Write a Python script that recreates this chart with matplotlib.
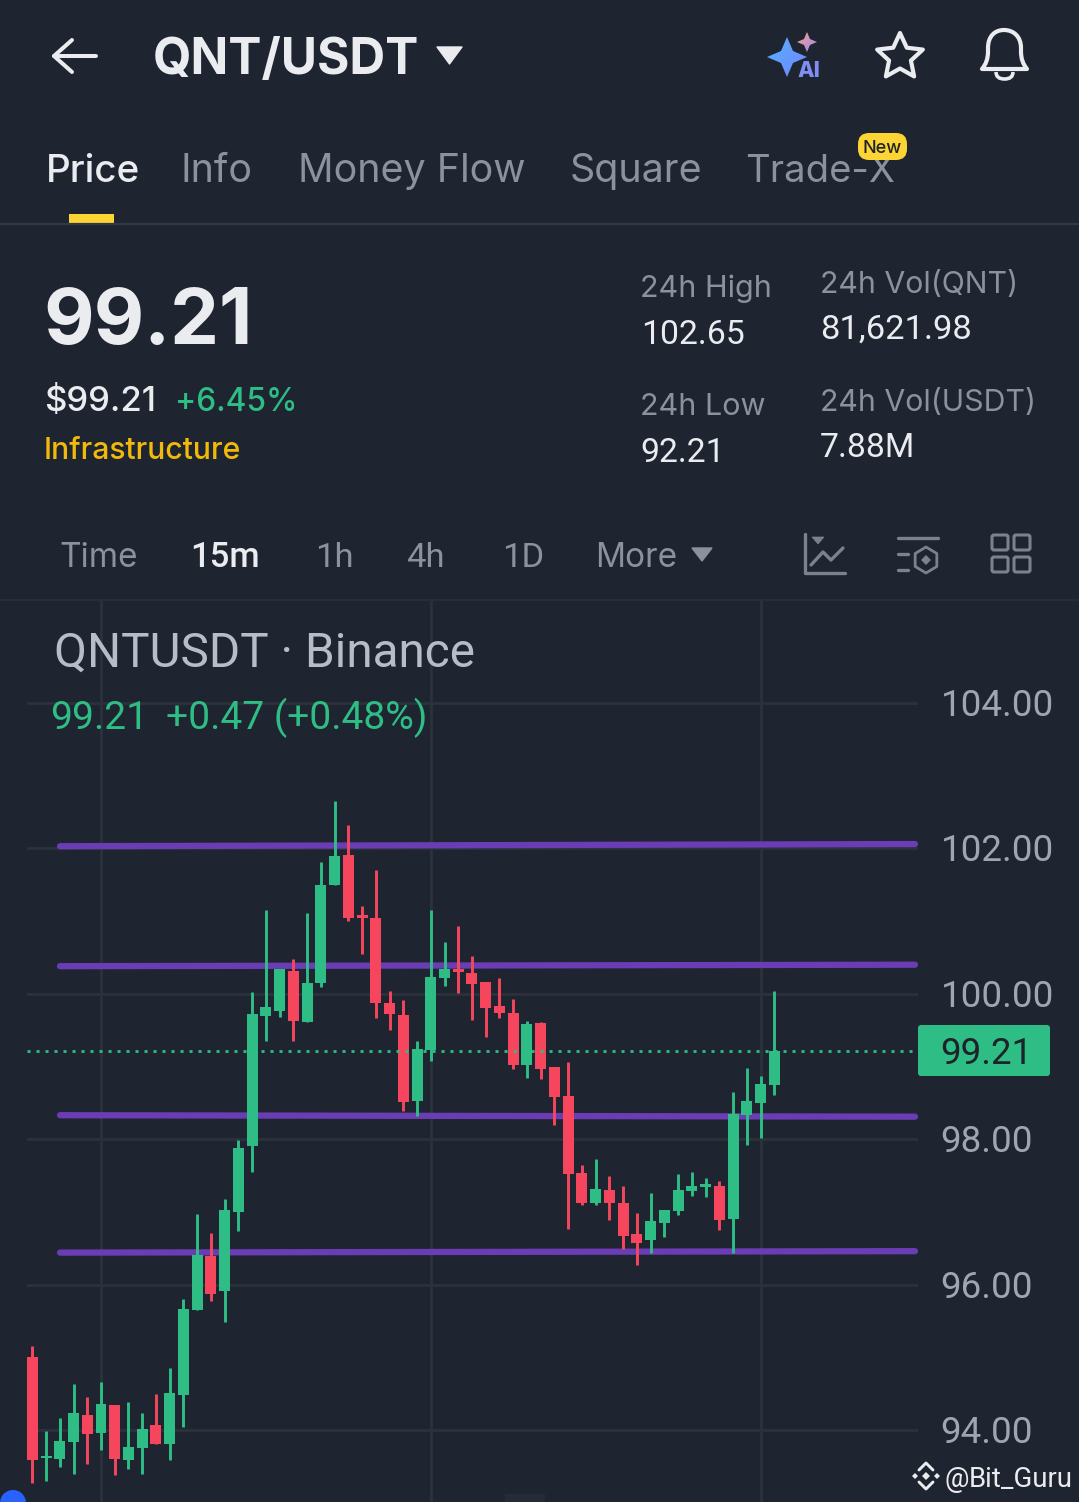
import matplotlib
matplotlib.use('Agg')
import numpy as np
import matplotlib.pyplot as plt
from matplotlib.colors import LinearSegmentedColormap
from matplotlib.patches import Circle, FancyBboxPatch, PathPatch, Polygon, Rectangle
from matplotlib.path import Path
from matplotlib.transforms import Affine2D

# QNT/USDT 15m candles
opens = [95.01, 93.61, 93.60, 93.84, 94.21, 93.96, 94.35, 93.59, 93.75, 94.07,
         93.81, 94.48, 95.65, 96.39, 95.91, 97.00, 97.90, 99.70, 99.76, 100.31,
         99.61, 100.15, 101.50, 101.91, 101.08, 101.04, 99.87, 99.71, 98.53, 99.23,
         100.22, 100.34, 100.29, 100.16, 99.83, 99.74, 99.02, 99.60, 99.00, 98.59,
         97.54, 97.12, 97.30, 97.12, 96.70, 96.61, 96.85, 97.01, 97.29, 97.34,
         97.36, 96.90, 98.33, 98.50, 98.75]
highs = [95.15, 93.98, 94.16, 94.63, 94.46, 94.66, 94.35, 94.39, 94.24, 94.50,
         94.85, 95.80, 96.97, 96.71, 97.18, 97.99, 100.02, 101.15, 100.34, 100.48,
         101.11, 101.81, 102.65, 102.32, 101.21, 101.70, 100.04, 99.91, 99.35, 101.15,
         100.71, 100.93, 100.52, 100.16, 100.22, 99.93, 99.62, 99.61, 99.00, 99.06,
         97.65, 97.73, 97.49, 97.36, 96.98, 97.26, 97.03, 97.52, 97.55, 97.47,
         97.43, 98.65, 98.98, 98.87, 100.04]
lows = [93.27, 93.30, 93.49, 93.40, 93.53, 93.73, 93.38, 93.46, 93.40, 93.81,
        93.59, 94.04, 95.65, 95.77, 95.49, 96.74, 97.55, 99.35, 99.68, 99.35,
        99.61, 100.09, 101.50, 101.00, 100.55, 99.67, 99.50, 98.39, 98.32, 99.08,
        100.11, 100.01, 99.64, 99.41, 99.67, 98.97, 98.84, 98.83, 98.20, 96.76,
        97.10, 97.10, 96.89, 96.49, 96.27, 96.43, 96.65, 96.96, 97.22, 97.20,
        96.75, 96.43, 97.92, 98.02, 98.61]
closes = [93.59, 93.64, 93.85, 94.24, 93.95, 94.36, 93.60, 93.77, 94.02, 93.81,
          94.51, 95.67, 96.41, 95.87, 97.03, 97.88, 99.72, 99.82, 100.34, 99.63,
          100.15, 101.50, 101.90, 101.04, 101.04, 99.87, 99.72, 98.51, 99.24, 100.23,
          100.34, 100.30, 100.13, 99.80, 99.74, 99.02, 99.58, 98.97, 98.58, 97.52,
          97.12, 97.32, 97.12, 96.67, 96.57, 96.87, 97.03, 97.30, 97.36, 97.38,
          96.89, 98.35, 98.53, 98.76, 99.21]

# hand drawn levels: price at the left end, price at the right end
level_starts = [102.03, 100.38, 98.33, 96.44]
level_ends = [102.06, 100.40, 98.31, 96.46]

last_price = 99.21
price_ticks = [94, 96, 98, 100, 102, 104]
time_ticks = [5, 29, 53]

W, H = 1079, 1502
BG = '#1e2430'
UP = '#2ebd85'
DOWN = '#f6465d'
GRID = '#2c323c'
WHITE = '#eaecef'
GREY = '#8b929e'
YELLOW = '#f0b90b'
PURPLE = '#6b3db5'
UI = ['Inter', 'Roboto', 'DejaVu Sans']
CHART = ['Roboto', 'DejaVu Sans']

fig = plt.figure(figsize=(W / 100, H / 100), dpi=100, facecolor=BG)

# chart area: candles start at x=32 with a 13.74px step, 72.7px per price unit
ax = fig.add_axes([27 / W, 0, (918 - 27) / W, (H - 600) / H], facecolor=BG)
ax.set_xlim((27 - 32.3) / 13.74, (918 - 32.3) / 13.74)
ax.set_ylim(104 - (H - 703) / 72.7, 104 + 103 / 72.7)
for s in ax.spines.values():
    s.set_visible(False)
ax.set_xticks(time_ticks)
ax.set_xticklabels([])
ax.set_yticks(price_ticks)
ax.set_yticklabels(['%.2f' % p for p in price_ticks], family=CHART, fontsize=26.5, color='#a0a6b0')
ax.yaxis.tick_right()
ax.tick_params(axis='both', length=0)
ax.tick_params(axis='y', pad=16.3)
for tl in ax.get_yticklabels():
    tl.set_transform(tl.get_transform() + Affine2D().translate(0, 1))
ax.grid(True, color=GRID, lw=2)
ax.set_axisbelow(True)

xs = np.arange(len(opens))
o, h, l, c = map(np.array, (opens, highs, lows, closes))
colors = np.where(c >= o, UP, DOWN)

# support/resistance lines sit under the candles
x0, x1 = (60 - 32.3) / 13.74, (915 - 32.3) / 13.74
for a, b in zip(level_starts, level_ends):
    ax.plot([x0, x1], [a, b], color=PURPLE, lw=4.5, solid_capstyle='round', zorder=2, clip_on=False)

ax.vlines(xs, l, h, colors=colors, lw=2.1, zorder=3)
ax.bar(xs, np.abs(c - o), bottom=np.minimum(o, c), width=0.8, color=colors, zorder=4)

ax.plot(ax.get_xlim(), [last_price, last_price], color=UP, lw=2, ls=(0, (1.1, 2.14)), zorder=5)

# everything else is laid out in pixels on a transparent overlay
ui = fig.add_axes([0, 0, 1, 1], facecolor='none')
ui.set_xlim(0, W)
ui.set_ylim(H, 0)
ui.axis('off')


def label(x, y, s, size, color=WHITE, weight='normal', family=UI, ha='left', z=5):
    return ui.text(x, y, s, fontsize=size, color=color, fontweight=weight, family=family, ha=ha, va='baseline', zorder=z)


def stroke(pts, color=WHITE, lw=3, z=5):
    px, py = zip(*pts)
    ui.plot(px, py, color=color, lw=lw, solid_capstyle='round', solid_joinstyle='round', zorder=z)


def sparkle(cx, cy, r, c_from, c_to):
    # four point star filled with a diagonal gradient
    t = r * 0.3
    pts = [(cx, cy - r), (cx + t, cy - t), (cx + r, cy), (cx + t, cy + t),
           (cx, cy + r), (cx - t, cy + t), (cx - r, cy), (cx - t, cy - t)]
    patch = Polygon(pts, closed=True, fc='none', ec='none', zorder=5)
    ui.add_patch(patch)
    cmap = LinearSegmentedColormap.from_list('star', [c_from, c_to])
    grad = np.add.outer(np.linspace(0, 1, 32), np.linspace(0, 1, 32)) / 2
    im = ui.imshow(grad, cmap=cmap, extent=(cx - r, cx + r, cy + r, cy - r), aspect='auto', zorder=5)
    im.set_clip_path(patch)


# header
stroke([(54, 56), (96, 56)], lw=2.9)
stroke([(72, 40), (54, 56), (72, 72)], lw=2.9)
label(153, 74, 'QNT/USDT', 35.7, weight='bold')
ui.add_patch(Polygon([(437, 47), (462, 47), (449.5, 64)], closed=True, fc=WHITE, ec=WHITE, lw=1, joinstyle='round'))

sparkle(787, 57, 20, '#58b0ff', '#6f86ff')
sparkle(807, 42, 10, '#f2a68e', '#a583f0')
label(797, 77, 'AI', 15.5, color='#7f8ef5', weight='heavy')
ui.set_xlim(0, W)
ui.set_ylim(H, 0)

angles = np.deg2rad(-90 + 36 * np.arange(10))
radii = np.where(np.arange(10) % 2 == 0, 24, 11.5)
star = list(zip(900 + radii * np.cos(angles), 57 + radii * np.sin(angles)))
ui.add_patch(Polygon(star, closed=True, fc='none', ec=WHITE, lw=3, joinstyle='round'))

bell = Path([(982, 69), (988, 62), (988, 52), (988, 48), (988, 36), (995, 30), (1004, 30),
             (1013, 30), (1021, 36), (1021, 48), (1021, 52), (1021, 62), (1027, 69), (982, 69)],
            [Path.MOVETO, Path.CURVE3, Path.CURVE3, Path.LINETO, Path.CURVE4, Path.CURVE4, Path.CURVE4,
             Path.CURVE4, Path.CURVE4, Path.CURVE4, Path.LINETO, Path.CURVE3, Path.CURVE3, Path.CLOSEPOLY])
ui.add_patch(PathPatch(bell, fc='none', ec=WHITE, lw=3, joinstyle='round'))
clapper = Path([(996, 72), (996, 79), (1004.5, 79), (1013, 79), (1013, 72)],
               [Path.MOVETO, Path.CURVE3, Path.CURVE3, Path.CURVE3, Path.CURVE3])
ui.add_patch(PathPatch(clapper, fc='none', ec=WHITE, lw=2.6))

# tabs
label(46, 182, 'Price', 27.8, weight='medium')
for x, s in zip([181, 298, 570], ['Info', 'Money Flow', 'Square']):
    label(x, 182, s, 28.4, color=GREY)
label(745, 182, 'Trade-X', 27.5, color=GREY)
ui.add_patch(FancyBboxPatch((858 + 11, 133 + 11), 49 - 22, 27 - 22, boxstyle='round,pad=11', fc='#fcd535', ec='none', zorder=6))
label(882.5, 153, 'New', 13, color='#1e2329', weight='medium', ha='center', z=7)
ui.add_patch(Rectangle((69, 214), 45, 9, fc='#fcd535', ec='none'))
ui.plot([0, W], [224, 224], color='#323843', lw=1.6, zorder=1)

# price block
label(43, 344, '99.21', 56, weight='bold')
label(44, 411, '$99.21', 25, weight='medium')
label(174.5, 411, '+6.45%', 22.8, color=UP, weight='medium')
label(44, 459, 'Infrastructure', 21.7, color=YELLOW, weight='medium')

label(640, 297, '24h High', 22, color=GREY)
label(641, 344, '102.65', 24.3, family=CHART)
label(640, 415, '24h Low', 22, color=GREY)
label(640, 462, '92.21', 24.3, family=CHART)
label(820, 293, '24h Vol(QNT)', 21.8, color=GREY)
label(820, 339, '81,621.98', 24.8, family=CHART)
label(820, 411, '24h Vol(USDT)', 21.8, color=GREY)
label(820, 457, '7.88M', 24.3, family=CHART)

# timeframe row
for x, s in zip([59, 595], ['Time', 'More']):
    label(x, 567, s, 24, color=GREY)
for x, s in zip([315, 406, 502], ['1h', '4h', '1D']):
    label(x, 567, s, 24.8, color=GREY, family=CHART)
label(190, 567, '15m', 25, weight='medium', family=CHART)
ui.add_patch(Polygon([(692, 548), (712, 548), (702, 561)], closed=True, fc=GREY, ec=GREY, lw=1))

ICON = '#7b828e'
stroke([(805, 534), (805, 573), (845, 573)], color=ICON, lw=2.4)
stroke([(811, 565), (823, 552), (831, 560), (843, 548)], color=ICON, lw=2.4)
ui.add_patch(Polygon([(812, 537), (824, 537), (818, 544)], closed=True, fc=ICON, ec=ICON, lw=0.5))
stroke([(898, 538), (938, 538)], color=ICON, lw=2.4)
stroke([(898, 554), (908, 554)], color=ICON, lw=2.4)
stroke([(898, 570), (908, 570)], color=ICON, lw=2.4)
hex_a = np.deg2rad(-90 + 60 * np.arange(6))
hexagon = list(zip(926 + 12.5 * np.cos(hex_a), 560 + 13 * np.sin(hex_a)))
ui.add_patch(Polygon(hexagon, closed=True, fc='none', ec=ICON, lw=2, joinstyle='round'))
ui.add_patch(Polygon([(926, 555), (931, 560), (926, 565), (921, 560)], closed=True, fc=ICON, ec='none'))
for bx in (992, 1014):
    for by in (535, 557):
        ui.add_patch(FancyBboxPatch((bx, by), 16, 15, boxstyle='round,pad=0,rounding_size=2', fc='none', ec=ICON, lw=2.2))

ui.plot([0, W], [600, 600], color='#272d38', lw=1.6, zorder=1)

# chart legend
label(54, 667, 'QNTUSDT · Binance', 34.4, color='#b7bdc6', family=CHART)
label(50, 729, '99.21', 28.1, color=UP, family=CHART)
label(166, 729, '+0.47 (+0.48%)', 28.1, color=UP, family=CHART)

# last price tag
ui.add_patch(FancyBboxPatch((918, 1025), 132, 51, boxstyle='round,pad=0,rounding_size=3', fc=UP, ec='none'))
label(986.5, 1064, '%.2f' % last_price, 26.5, color='#1e2329', family=CHART, ha='center')

# footer bits
ui.add_patch(Circle((13, 1503), 13, fc='#2962ff', ec='none'))
ui.add_patch(Rectangle((505, 1494), 40, 8, fc='#262c37', ec='none'))

# exchange logo next to the handle
lx, ly = 926, 1476
stroke([(lx - 7, ly - 6), (lx, ly - 13), (lx + 7, ly - 6)], lw=2.1)
stroke([(lx - 7, ly + 6), (lx, ly + 13), (lx + 7, ly + 6)], lw=2.1)
ui.add_patch(Polygon([(lx, ly - 4), (lx + 4, ly), (lx, ly + 4), (lx - 4, ly)], closed=True, fc=WHITE, ec='none'))
for dx in (-11, 11):
    ui.add_patch(Polygon([(lx + dx, ly - 3), (lx + dx + 3, ly), (lx + dx, ly + 3), (lx + dx - 3, ly)], closed=True, fc=WHITE, ec='none'))
label(945, 1487, '@', 19.6, family=CHART)
label(969, 1487, 'Bit_Guru', 19.8, family=CHART)

fig.savefig('out.png', dpi=100, facecolor=BG)
